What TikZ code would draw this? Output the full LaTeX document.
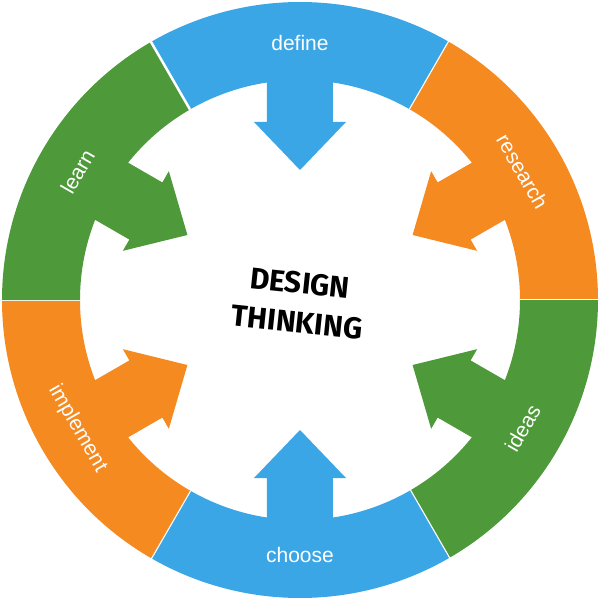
\documentclass[tikz,border=0pt]{standalone}
\usepackage{fontspec}
\setmainfont{Liberation Sans}
\newfontfamily\handfont{Fira Sans}
\definecolor{cblue}{HTML}{3AA6E6}
\definecolor{corange}{HTML}{F58A21}
\definecolor{cgreen}{HTML}{4E9A3A}
\tikzset{lbl/.style={text=white,font=\fontsize{21}{21}\selectfont,inner sep=0pt}}
\begin{document}
\begin{tikzpicture}[x=1pt,y=1pt]
\useasboundingbox (-300,-300) rectangle (300,300);
\foreach \a/\c in {60/cblue,0/corange,-60/cgreen,-120/cblue,180/corange,120/cgreen}{
  \pgfmathsetmacro{\m}{\a+30}
  \pgfmathsetmacro{\b}{\a+60}
  \fill[\c] (\a:298) arc[start angle=\a,end angle=\b,radius=298] -- (\b:220) arc[start angle=\b,end angle=\a,radius=220] -- cycle;
  \begin{scope}[rotate=\m]
    \fill[\c] (224,-33) -- (178,-33) -- (178,-46) -- (130,0) -- (178,46) -- (178,33) -- (224,33) -- cycle;
  \end{scope}
  \draw[white,line width=2.5pt] (\a:220) -- (\a:302);
}
\node[lbl] (define) at (90:257) {define};
\node[lbl,rotate=-60] (research) at (30:257) {research};
\node[lbl,rotate=60] (ideas) at (-30:257) {ideas};
\node[lbl] (choose) at (-90:255) {choose};
\node[lbl,rotate=-60] (implement) at (210:257) {implement};
\node[lbl,rotate=60] (learn) at (150:257) {learn};
\node[font=\handfont\fontsize{30}{30}\selectfont\bfseries,rotate=-6] (dt1) at (0,17) {DESIGN};
\node[font=\handfont\fontsize{30}{30}\selectfont\bfseries,rotate=-6] (dt2) at (-3,-22) {THINKING};
\end{tikzpicture}
\end{document}
